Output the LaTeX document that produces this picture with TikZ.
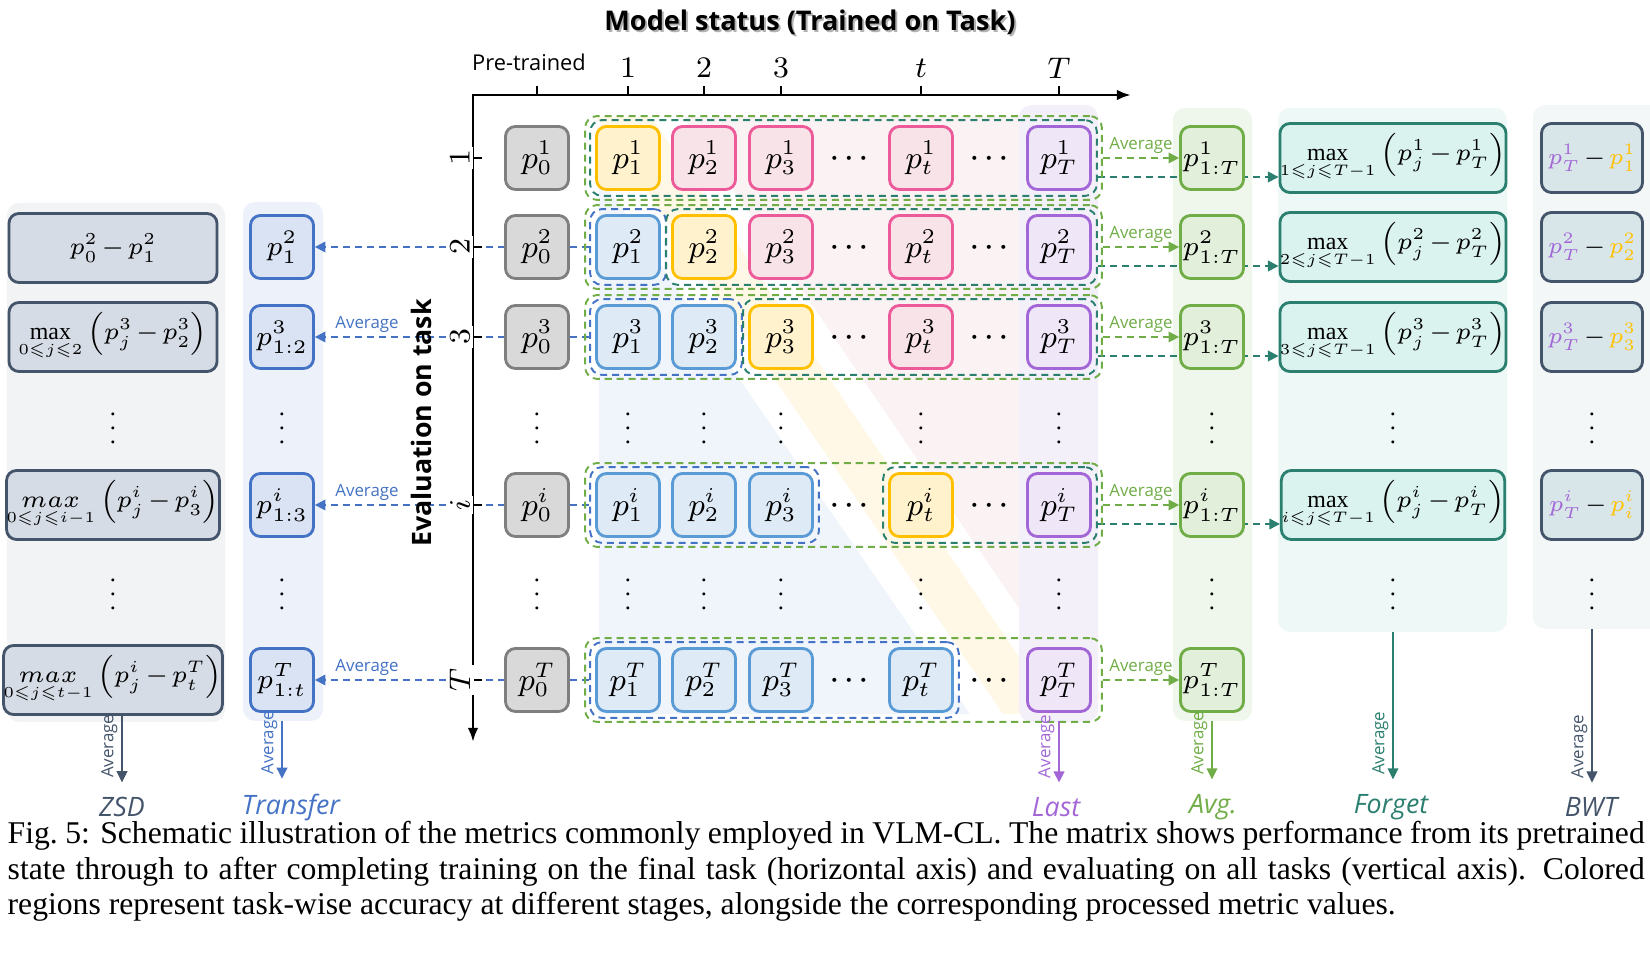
\RequirePackage{fix-cm}
\documentclass[tikz,border=0pt]{standalone}
\usepackage{amssymb}
\usepackage{fontspec}
\setmainfont{Liberation Serif}
\newfontfamily\comicfont{Open Sans}
\usetikzlibrary{arrows.meta,calc,fit,backgrounds,positioning}

\definecolor{grayfill}{HTML}{D9D9D9}
\definecolor{grayline}{HTML}{7F7F7F}
\definecolor{yelfill}{HTML}{FFF2CC}
\definecolor{yelline}{HTML}{FFC000}
\definecolor{pinkfill}{HTML}{F8E4E8}
\definecolor{pinkline}{HTML}{EC5A9A}
\definecolor{bluefill}{HTML}{DEEAF6}
\definecolor{blueline}{HTML}{5B9BD5}
\definecolor{purpfill}{HTML}{EFE6F8}
\definecolor{purpline}{HTML}{A366D6}
\definecolor{avgfill}{HTML}{E2EFDA}
\definecolor{avgline}{HTML}{70AD47}
\definecolor{fgtfill}{HTML}{DAF3EE}
\definecolor{fgtline}{HTML}{2A7F6F}
\definecolor{slatefill}{HTML}{D6DCE5}
\definecolor{slateline}{HTML}{44546A}
\definecolor{bwtfill}{HTML}{D8E6EA}
\definecolor{trafill}{HTML}{DAE3F3}
\definecolor{traline}{HTML}{4472C4}
\definecolor{zsdbg}{HTML}{F2F3F5}
\definecolor{trabg}{HTML}{EDF1FA}
\definecolor{avgbg}{HTML}{EFF6EB}
\definecolor{fgtbg}{HTML}{EEF8F6}
\definecolor{bwtbg}{HTML}{F3F7F8}
\definecolor{lastbg}{HTML}{F4F0FA}
\definecolor{bandblue}{HTML}{EFF5FB}
\definecolor{bandyel}{HTML}{FFF8E6}
\definecolor{bandpink}{HTML}{FAF2F3}

% small limits under max, tighter minus
\newcommand{\lims}[1]{\mbox{\fontsize{6.2}{7}\selectfont$\scriptstyle #1$}}
\newcommand{\tightmath}{\medmuskip 2mu\relax}

\begin{document}
\begin{tikzpicture}[x=0.01cm,y=-0.01cm]
\useasboundingbox (0,0) rectangle (1650,955);
% size of each box
\def\bw{0.63cm}
\def\bh{0.63cm}
% node style definition
\tikzstyle{cell} = [draw, rounded corners=0.1cm, line width=0.8pt,
	minimum width=\bw, minimum height=\bh, inner sep=0pt, font=\fontsize{9}{10}\selectfont];
\tikzstyle{gry} = [cell, draw=grayline, fill=grayfill];
\tikzstyle{yel} = [cell, draw=yelline, fill=yelfill];
\tikzstyle{pnk} = [cell, draw=pinkline, fill=pinkfill];
\tikzstyle{blu} = [cell, draw=blueline, fill=bluefill];
\tikzstyle{prp} = [cell, draw=purpline, fill=purpfill];
\tikzstyle{tra} = [cell, draw=traline, fill=trafill, font=\fontsize{7.8}{9}\selectfont];
\tikzstyle{avgbox} = [cell, draw=avgline, fill=avgfill, font=\fontsize{7.8}{9}\selectfont];
\tikzstyle{wide} = [cell, minimum height=0.69cm, font=\fontsize{6.8}{8}\selectfont\tightmath];
\tikzstyle{zsdbox} = [wide, draw=slateline, fill=slatefill, minimum width=2.08cm];
\tikzstyle{fgtbox} = [wide, draw=fgtline, fill=fgtfill, minimum width=2.13cm];
\tikzstyle{bwtbox} = [wide, draw=slateline, fill=bwtfill, minimum width=1.01cm, font=\fontsize{6.5}{8}\selectfont\tightmath];
\tikzstyle{maxtxt} = [font=\fontsize{6.8}{8}\selectfont\tightmath];
\tikzstyle{hdots} = [inner sep=0pt, font=\fontsize{7}{8}\selectfont\boldmath];
\tikzstyle{grp} = [rounded corners=0.12cm, line width=0.55pt, dash pattern=on 2pt off 1.4pt];
\tikzstyle{grpall} = [grp, draw=avgline, inner xsep=0.1cm, inner ysep=0.09cm];
\tikzstyle{seen} = [grp, draw=traline, inner sep=0.05cm];
\tikzstyle{rest} = [grp, draw=fgtline, inner sep=0.05cm];
\tikzstyle{hdr} = [inner sep=1pt, font=\fontsize{8.5}{10}\selectfont];
\tikzstyle{rowlbl} = [hdr, rotate=90, fill=white];
\tikzstyle{lbl} = [font=\comicfont\fontsize{4.8}{5}\selectfont, inner sep=1pt];
\tikzstyle{btm} = [font=\comicfont\itshape\fontsize{7.6}{8}\selectfont, inner ysep=0.14cm];
\tikzstyle{conn} = [dash pattern=on 2pt off 1.4pt, line width=0.55pt, -{Triangle[length=3pt,width=3pt]}];
\tikzstyle{down} = [line width=0.6pt, -{Triangle[length=3.2pt,width=3pt]}];

% coloured regions
\begin{pgfonlayer}{background}
\fill[zsdbg, rounded corners=0.12cm] (7,203) rectangle (225,722);
\fill[trabg, rounded corners=0.12cm] (243,202) rectangle (323,721);
\fill[avgbg, rounded corners=0.12cm] (1173,108) rectangle (1252,721);
\fill[fgtbg, rounded corners=0.12cm] (1278,108) rectangle (1507,632);
\fill[bwtbg, rounded corners=0.12cm] (1533,105) rectangle (1662,629);
\fill[bandpink] (684,117) -- (1098,117) -- (1098,714) -- (1091,714) -- cycle;
\fill[bandyel] (596,117) -- (651,117) -- (1058,714) -- (1003,714) -- cycle;
\fill[bandblue] (599,175) -- (970,714) -- (599,714) -- cycle;
\fill[lastbg, rounded corners=0.12cm] (1019,105) rectangle (1098,722);
\end{pgfonlayer}

% title and axes
\node[font=\comicfont\bfseries\fontsize{7.7}{9}\selectfont, text=black!30] (titlesh) at (812,24) {Model status (Trained on Task)};
\node[font=\comicfont\bfseries\fontsize{7.7}{9}\selectfont] (title) at (810,22) {Model status (Trained on Task)};
\node[font=\comicfont\fontsize{6.2}{7}\selectfont] (pre) at (529,62) {Pre-trained};
\node[hdr] (h1) at (628,68) {$1$};
\node[hdr] (h2) at (704,68) {$2$};
\node[hdr] (h3) at (781,68) {$3$};
\node[hdr] (ht) at (921,68) {$t$};
\node[hdr] (hT) at (1059,68) {$T$};
\node[rotate=90, font=\comicfont\bfseries\fontsize{7.6}{9}\selectfont] (evl) at (421,423) {Evaluation on task};

\draw[{Latex[length=4pt]}-{Latex[length=4pt]}, line width=0.8pt] (473,742) |- (1131,95);
\foreach \x in {537,628,704,781,921,1059} \draw[line width=0.8pt] (\x,95) -- (\x,86);
\foreach \y in {158,247,337,505,680} \draw[line width=0.8pt] (473,\y) -- (482,\y);

\node[rowlbl] (l1) at (460,158) {$1$};
\node[rowlbl] (l2) at (460,247) {$2$};
\node[rowlbl] (l3) at (460,337) {$3$};
\node[rowlbl] (li) at (460,505) {$i$};
\node[rowlbl] (lT) at (460,680) {$T$};

% matrix, row 1
\node[gry] (c10) at (537,158) {$p_0^1$};
\node[yel] (c11) at (628,158) {$p_1^1$};
\node[pnk] (c12) at (704,158) {$p_2^1$};
\node[pnk] (c13) at (781,158) {$p_3^1$};
\node[hdots] (d1a) at (849,158) {$\cdots$};
\node[pnk] (c1t) at (921,158) {$p_t^1$};
\node[hdots] (d1b) at (989,158) {$\cdots$};
\node[prp] (c1T) at (1059,158) {$p_T^1$};
% row 2
\node[gry] (c20) at (537,247) {$p_0^2$};
\node[blu] (c21) at (628,247) {$p_1^2$};
\node[yel] (c22) at (704,247) {$p_2^2$};
\node[pnk] (c23) at (781,247) {$p_3^2$};
\node[hdots] (d2a) at (849,247) {$\cdots$};
\node[pnk] (c2t) at (921,247) {$p_t^2$};
\node[hdots] (d2b) at (989,247) {$\cdots$};
\node[prp] (c2T) at (1059,247) {$p_T^2$};
% row 3
\node[gry] (c30) at (537,337) {$p_0^3$};
\node[blu] (c31) at (628,337) {$p_1^3$};
\node[blu] (c32) at (704,337) {$p_2^3$};
\node[yel] (c33) at (781,337) {$p_3^3$};
\node[hdots] (d3a) at (849,337) {$\cdots$};
\node[pnk] (c3t) at (921,337) {$p_t^3$};
\node[hdots] (d3b) at (989,337) {$\cdots$};
\node[prp] (c3T) at (1059,337) {$p_T^3$};
% row i
\node[gry] (ci0) at (537,505) {$p_0^i$};
\node[blu] (ci1) at (628,505) {$p_1^i$};
\node[blu] (ci2) at (704,505) {$p_2^i$};
\node[blu] (ci3) at (781,505) {$p_3^i$};
\node[hdots] (dia) at (849,505) {$\cdots$};
\node[yel] (cit) at (921,505) {$p_t^i$};
\node[hdots] (dib) at (989,505) {$\cdots$};
\node[prp] (ciT) at (1059,505) {$p_T^i$};
% row T
\node[gry] (cT0) at (537,680) {$p_0^T$};
\node[blu] (cT1) at (628,680) {$p_1^T$};
\node[blu] (cT2) at (704,680) {$p_2^T$};
\node[blu] (cT3) at (781,680) {$p_3^T$};
\node[hdots] (dTa) at (849,680) {$\cdots$};
\node[blu] (cTt) at (921,680) {$p_t^T$};
\node[hdots] (dTb) at (989,680) {$\cdots$};
\node[prp] (cTT) at (1059,680) {$p_T^T$};

% vertical dots
\node[hdots] (v0a) at (537,418) {$\vdots$};
\node[hdots] (v1a) at (628,418) {$\vdots$};
\node[hdots] (v2a) at (704,418) {$\vdots$};
\node[hdots] (v3a) at (781,418) {$\vdots$};
\node[hdots] (vta) at (921,418) {$\vdots$};
\node[hdots] (vTa) at (1059,418) {$\vdots$};
\node[hdots] (v0b) at (537,584) {$\vdots$};
\node[hdots] (v1b) at (628,584) {$\vdots$};
\node[hdots] (v2b) at (704,584) {$\vdots$};
\node[hdots] (v3b) at (781,584) {$\vdots$};
\node[hdots] (vtb) at (921,584) {$\vdots$};
\node[hdots] (vTb) at (1059,584) {$\vdots$};

% dashed groups
\node[grpall, fit=(c11)(c1T)] (all1) {};
\node[rest, fit=(c11)(c1T)] (rest1) {};
\node[grpall, fit=(c21)(c2T)] (all2) {};
\node[seen, fit=(c21)] (seen2) {};
\node[rest, fit=(c22)(c2T)] (rest2) {};
\node[grpall, fit=(c31)(c3T)] (all3) {};
\node[seen, fit=(c31)(c32)] (seen3) {};
\node[rest, fit=(c33)(c3T)] (rest3) {};
\node[grpall, fit=(ci1)(ciT)] (alli) {};
\node[seen, fit=(ci1)(ci3)] (seeni) {};
\node[rest, fit=(cit)(ciT)] (resti) {};
\node[grpall, fit=(cT1)(cTT)] (allT) {};
\node[seen, fit=(cT1)(cTt)] (seenT) {};

% ZSD column
\node[zsdbox] (zsd2) at (113,248) {$p_0^2 - p_1^2$};
\node[zsdbox, maxtxt] (zsd3) at (113,337) {$\max\limits_{\lims{0\leqslant j\leqslant 2}}\left(p_j^3 - p_2^3\right)$};
\node[hdots] (vza) at (113,418) {$\vdots$};
\node[zsdbox, maxtxt] (zsdi) at (113,505) {$\mathop{max}\limits_{\lims{0\leqslant j\leqslant i-1}}\left(p_j^i - p_3^i\right)$};
\node[hdots] (vzb) at (113,584) {$\vdots$};
\node[zsdbox, maxtxt] (zsdT) at (113,680) {$\mathop{max}\limits_{\lims{0\leqslant j\leqslant t-1}}\left(p_j^i - p_t^T\right)$};

% Transfer column
\node[tra] (tra2) at (282,247) {$p_1^2$};
\node[tra] (tra3) at (282,337) {$p_{1{:}2}^3$};
\node[hdots] (vra) at (282,418) {$\vdots$};
\node[tra] (trai) at (282,505) {$p_{1{:}3}^i$};
\node[hdots] (vrb) at (282,584) {$\vdots$};
\node[tra] (traT) at (282,680) {$p_{1{:}t}^T$};

% Avg column
\node[avgbox] (avg1) at (1212,158) {$p_{1{:}T}^1$};
\node[avgbox] (avg2) at (1212,247) {$p_{1{:}T}^2$};
\node[avgbox] (avg3) at (1212,337) {$p_{1{:}T}^3$};
\node[hdots] (vaa) at (1212,418) {$\vdots$};
\node[avgbox] (avgi) at (1212,505) {$p_{1{:}T}^i$};
\node[hdots] (vab) at (1212,584) {$\vdots$};
\node[avgbox] (avgT) at (1212,680) {$p_{1{:}T}^T$};

% Forget column
\node[fgtbox, maxtxt] (forg1) at (1393,158) {$\max\limits_{\lims{1\leqslant j\leqslant T-1}}\left(p_j^1 - p_T^1\right)$};
\node[fgtbox, maxtxt] (forg2) at (1393,247) {$\max\limits_{\lims{2\leqslant j\leqslant T-1}}\left(p_j^2 - p_T^2\right)$};
\node[fgtbox, maxtxt] (forg3) at (1393,337) {$\max\limits_{\lims{3\leqslant j\leqslant T-1}}\left(p_j^3 - p_T^3\right)$};
\node[hdots] (vfa) at (1393,418) {$\vdots$};
\node[fgtbox, maxtxt] (forgi) at (1393,505) {$\max\limits_{\lims{i\leqslant j\leqslant T-1}}\left(p_j^i - p_T^i\right)$};
\node[hdots] (vfb) at (1393,584) {$\vdots$};

% BWT column
\node[bwtbox] (bwt1) at (1592,158) {$\textcolor{purpline}{p_T^1} - \textcolor{yelline}{p_1^1}$};
\node[bwtbox] (bwt2) at (1592,247) {$\textcolor{purpline}{p_T^2} - \textcolor{yelline}{p_2^2}$};
\node[bwtbox] (bwt3) at (1592,337) {$\textcolor{purpline}{p_T^3} - \textcolor{yelline}{p_3^3}$};
\node[hdots] (vba) at (1592,418) {$\vdots$};
\node[bwtbox] (bwti) at (1592,505) {$\textcolor{purpline}{p_T^i} - \textcolor{yelline}{p_i^i}$};
\node[hdots] (vbb) at (1592,584) {$\vdots$};

% metric names
\node[btm, text=slateline] (lzsd) at (122,807) {ZSD};
\node[btm, text=traline] (ltra) at (291,807) {Transfer};
\node[btm, text=purpline] (llast) at (1056,807) {Last};
\node[btm, text=avgline] (lavg) at (1213,807) {Avg.};
\node[btm, text=fgtline] (lfgt) at (1391,807) {Forget};
\node[btm, text=slateline] (lbwt) at (1591,807) {BWT};
\coordinate (fgtend) at (1393,632);
\coordinate (bwtend) at (1592,629);

% caption
\node[anchor=north west, text width=16.36cm, inner sep=0pt, align=justify,
	font=\fontsize{9}{9.96}\selectfont] (caption) at (7,821)
	{Fig.~5: Schematic illustration of the metrics commonly employed in VLM-CL. The matrix shows performance from its pretrained\linebreak
	state through to after completing training on the final task (horizontal axis) and evaluating on all tasks (vertical axis). Colored\linebreak
	regions represent task-wise accuracy at different stages, alongside the corresponding processed metric values.};

% connectors
\begin{pgfonlayer}{background}
\draw[conn, traline] (seen2.west) -- (tra2.east);
\draw[conn, traline] (seen3.west) -- (tra3.east) node[lbl, text=traline, pos=0.81, above] {Average};
\draw[conn, traline] (seeni.west) -- (trai.east) node[lbl, text=traline, pos=0.81, above] {Average};
\draw[conn, traline] (seenT.west) -- (traT.east) node[lbl, text=traline, pos=0.81, above] {Average};
\draw[conn, avgline] (all1.east) -- (avg1.west) node[lbl, text=avgline, midway, above] {Average};
\draw[conn, avgline] (all2.east) -- (avg2.west) node[lbl, text=avgline, midway, above] {Average};
\draw[conn, avgline] (all3.east) -- (avg3.west) node[lbl, text=avgline, midway, above] {Average};
\draw[conn, avgline] (alli.east) -- (avgi.west) node[lbl, text=avgline, midway, above] {Average};
\draw[conn, avgline] (allT.east) -- (avgT.west) node[lbl, text=avgline, midway, above] {Average};
\draw[conn, fgtline] ($(rest1.east)+(0,19)$) -- ($(forg1.west)+(0,19)$);
\draw[conn, fgtline] ($(rest2.east)+(0,19)$) -- ($(forg2.west)+(0,19)$);
\draw[conn, fgtline] ($(rest3.east)+(0,19)$) -- ($(forg3.west)+(0,19)$);
\draw[conn, fgtline] ($(resti.east)+(0,19)$) -- ($(forgi.west)+(0,19)$);
\end{pgfonlayer}

% averaging down to the metrics
\draw[down, slateline] (zsdT.south -| lzsd) -- (lzsd.north)
	node[lbl, text=slateline, at end, rotate=90, anchor=south west] {Average};
\draw[down, traline] ($(traT.south)+(0,8)$) -- (traT.south |- ltra.north)
	node[lbl, text=traline, at end, rotate=90, anchor=south west] {Average};
\draw[down, purpline] ($(cTT.south)+(0,8)$) -- (cTT.south |- llast.north)
	node[lbl, text=purpline, at end, rotate=90, anchor=south west] {Average};
\draw[down, avgline] ($(avgT.south)+(0,8)$) -- (avgT.south |- lavg.north)
	node[lbl, text=avgline, at end, rotate=90, anchor=south west] {Average};
\draw[down, fgtline] (fgtend) -- (fgtend |- lfgt.north)
	node[lbl, text=fgtline, at end, rotate=90, anchor=south west] {Average};
\draw[down, slateline] (bwtend) -- (bwtend |- lbwt.north)
	node[lbl, text=slateline, at end, rotate=90, anchor=south west] {Average};

\end{tikzpicture}
\end{document}
